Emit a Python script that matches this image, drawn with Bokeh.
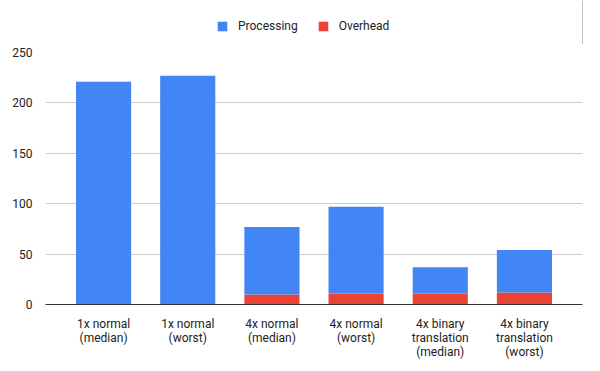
from bokeh.plotting import figure
from bokeh.layouts import column
from bokeh.models import ColumnDataSource, Legend, LegendItem, FixedTicker, Range1d
from bokeh.embed import file_html
from bokeh.resources import INLINE

categories = ["1x normal\n(median)", "1x normal\n(worst)", "4x normal\n(median)",
              "4x normal\n(worst)", "4x binary\ntranslation\n(median)", "4x binary\ntranslation\n(worst)"]
processing = [221, 227, 67, 86, 26, 42]
overhead = [0, 0, 10, 11, 11, 12]
y_ticks = [0, 50, 100, 150, 200, 250]
series = ["Overhead", "Processing"]
colors = ["#EA4335", "#4285F4"]

xs = list(range(len(categories)))
source = ColumnDataSource(dict(x=xs, Overhead=overhead, Processing=processing))

# legend strip on top (its dummy glyphs lie outside the visible range)
lf = figure(width=600, height=44, output_backend="svg", toolbar_location=None,
            x_axis_type=None, y_axis_type=None, x_range=Range1d(0, 1), y_range=Range1d(0, 1),
            min_border=0, min_border_left=0, min_border_right=0,
            min_border_top=0, min_border_bottom=0)
lf.outline_line_color = None
lf.xgrid.grid_line_color = None
lf.ygrid.grid_line_color = None
dummy = {}
for name, col in zip(series, colors):
    dummy[name] = lf.vbar(x=[10], top=[1], width=0.5, color=col, line_color=None)
lf_legend = Legend(items=[LegendItem(label="Processing", renderers=[dummy["Processing"]]),
                          LegendItem(label="Overhead", renderers=[dummy["Overhead"]])],
                   orientation="horizontal", location=(171, 11),
                   label_text_font="Roboto", label_text_font_size="12px",
                   label_text_color="#222222", glyph_width=12, glyph_height=12,
                   spacing=19, label_standoff=10, border_line_color=None,
                   background_fill_alpha=0, padding=0, margin=0)
lf.add_layout(lf_legend)

p = figure(width=600, height=327, output_backend="svg", toolbar_location=None,
           x_range=Range1d(-0.69, len(categories) - 1 + 0.69),
           y_range=Range1d(y_ticks[0], y_ticks[-1]),
           min_border_left=45, min_border_right=18,
           min_border_top=8, min_border_bottom=67)

rs = p.vbar_stack(series, x="x", width=0.655, source=source, color=colors, line_color=None)

p.outline_line_color = None
p.xgrid.grid_line_color = None
p.ygrid.grid_line_color = "#cccccc"
p.ygrid.grid_line_width = 1
p.yaxis.ticker = FixedTicker(ticks=y_ticks)
p.yaxis.axis_line_color = None
p.yaxis.major_tick_line_color = None
p.yaxis.minor_tick_line_color = None
p.yaxis.major_label_standoff = 7
p.xaxis.ticker = FixedTicker(ticks=xs)
p.xaxis.major_label_overrides = {i: c for i, c in zip(xs, categories)}
p.xaxis.axis_line_color = "#333333"
p.xaxis.axis_line_width = 1
p.xaxis.major_tick_line_color = None
p.xaxis.minor_tick_line_color = None
p.xaxis.major_label_standoff = 6
p.xaxis.major_label_text_line_height = 1.0
for ax in (p.xaxis[0], p.yaxis[0]):
    ax.major_label_text_font = "Roboto"
    ax.major_label_text_font_size = "12px"
    ax.major_label_text_color = "#222222"

layout = column(lf, p, spacing=0)
open("out.html", "w").write(file_html(layout, INLINE))
